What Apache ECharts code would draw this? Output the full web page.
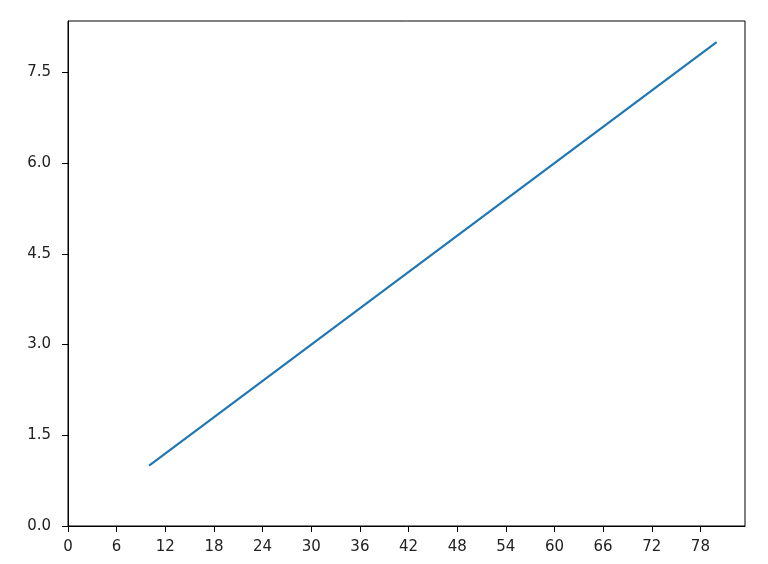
<!DOCTYPE html>
<html><head><meta charset="utf-8">
<script src="https://cdn.jsdelivr.net/npm/echarts@6/dist/echarts.min.js"></script>
<style>html,body{margin:0;padding:0;background:#fff}#c{width:768px;height:564px}</style>
</head><body><div id="c"></div>
<script>
const xValues = [10, 20, 30, 40, 50, 60, 70, 80];
const yValues = [1, 2, 3, 4, 5, 6, 7, 8];
const xTickStep = 6;
const yTickStep = 1.5;

const chart = echarts.init(document.getElementById('c'));
const font = 'DejaVu Sans';
chart.setOption({
  animation: false,
  grid: {left: 68, right: 23, top: 21, bottom: 38, show: true, borderColor: '#000', borderWidth: 1, backgroundColor: 'transparent'},
  xAxis: {
    type: 'value', min: 0, max: 83.5, interval: xTickStep,
    axisLine: {show: true, onZero: false, lineStyle: {color: '#000', width: 1}},
    axisTick: {show: true, inside: false, length: 6, lineStyle: {color: '#000'}},
    axisLabel: {showMaxLabel: false, color: '#222', fontFamily: font, fontSize: 15, margin: 14},
    splitLine: {show: false}
  },
  yAxis: {
    type: 'value', min: 0, max: 8.35, interval: yTickStep,
    axisLine: {show: true, onZero: false, lineStyle: {color: '#000', width: 1}},
    axisTick: {show: true, inside: false, length: 6, lineStyle: {color: '#000'}},
    axisLabel: {showMaxLabel: false, color: '#222', fontFamily: font, fontSize: 15, margin: 17,
      formatter: v => v.toFixed(1)},
    splitLine: {show: false}
  },
  series: [{
    type: 'line',
    data: xValues.map((x, i) => [x, yValues[i]]),
    showSymbol: false,
    lineStyle: {color: '#1f77b4', width: 2.2},
    itemStyle: {color: '#1f77b4'}
  }]
});
</script></body></html>
